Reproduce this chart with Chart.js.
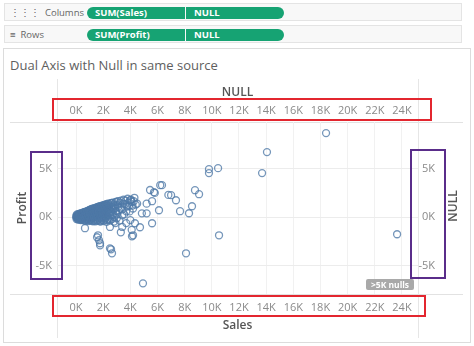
<!DOCTYPE html>
<html>
<head>
<meta charset="utf-8">
<script src="https://cdn.jsdelivr.net/npm/chart.js@4"></script>
<style>
  body { margin: 0; width: 474px; height: 346px; background: #fff; font-family: "Open Sans", sans-serif; position: relative; overflow: hidden; }
  .shelf { position: absolute; left: 4px; width: 458px; height: 18px; background: #f8f8f8; border: 1px solid #e4e4e4; box-sizing: border-box; }
  .shelf .lbl { position: absolute; left: 5px; top: 2px; font-size: 9.5px; color: #666; }
  .pill { position: absolute; top: 3px; height: 12px; background: #16a373; color: #fff; font-size: 9.5px; font-weight: 700; line-height: 12px; box-sizing: border-box; padding-left: 8px; }
  .pill.a { left: 82px; width: 98px; border-radius: 7px 0 0 7px; }
  .pill.b { left: 181px; width: 98px; border-radius: 0 7px 7px 0; }
  #panel { position: absolute; left: 3px; top: 48px; width: 468px; height: 295px; border: 1px solid #dcdcdc; box-sizing: border-box; }
  #title { position: absolute; left: 10px; top: 56px; font-size: 13px; color: #5e5e5e; }
  .hline { position: absolute; left: 10px; width: 453px; height: 1px; background: #e2e2e2; }
  .vline { position: absolute; top: 79px; width: 1px; height: 259px; background: #e6e6e6; }
  #chartBox { position: absolute; left: 4px; top: 80px; width: 466px; height: 262px; }
  #rightTitle { position: absolute; left: 452px; top: 206px; transform: translate(-50%, -50%) rotate(-90deg); font-size: 12px; font-weight: 600; color: #555; }
  .redbox { position: absolute; border: 2px solid #e3262f; box-sizing: border-box; }
  .purplebox { position: absolute; border: 2px solid #5a2d8a; box-sizing: border-box; }
  #badge { position: absolute; left: 366px; top: 279px; width: 48px; height: 11px; background: #a9a9a9; color: #fff; font-size: 8.5px; font-weight: 700; line-height: 11px; text-align: center; border-radius: 2px; }
</style>
</head>
<body>
<div class="shelf" style="top:3px"><span class="lbl">&#8942;&#8942;&#8942;&nbsp; Columns</span>
  <div class="pill a">SUM(Sales)</div><div class="pill b">NULL</div></div>
<div class="shelf" style="top:25px"><span class="lbl">&#8801;&nbsp; Rows</span>
  <div class="pill a">SUM(Profit)</div><div class="pill b">NULL</div></div>

<div id="panel"></div>
<div id="title">Dual Axis with Null in same source</div>
<div class="hline" style="top:122px"></div>
<div class="hline" style="top:294px"></div>
<div class="vline" style="left:57px"></div>
<div class="vline" style="left:418px"></div>

<div id="chartBox"><canvas id="chartDual"></canvas></div>
<div id="rightTitle">NULL</div>

<div class="redbox" style="left:52px;top:98px;width:380px;height:23px"></div>
<div class="redbox" style="left:52px;top:295px;width:374px;height:22px"></div>
<div class="purplebox" style="left:30px;top:151px;width:33px;height:129px"></div>
<div class="purplebox" style="left:410px;top:149px;width:36px;height:130px"></div>
<div id="badge">&gt;5K nulls</div>

<script>
// ==============================
//  DATOS
// ==============================
const xTicks = [0, 2000, 4000, 6000, 8000, 10000, 12000, 14000, 16000, 18000, 20000, 22000, 24000];
const yTicks = [-5000, 0, 5000];

// nube densa cerca del origen
const salesCore = [
  30, 50, 60, 80, 90, 110, 120, 140, 150, 170,
  190, 200, 220, 250, 260, 280, 300, 320, 350, 360,
  380, 400, 420, 450, 470, 500,
  520, 550, 570, 600, 620, 650, 680, 700, 720, 750,
  780, 800, 820, 850, 880, 900, 930, 950, 980, 1000,
  1020, 1050, 1080, 1100, 1120, 1150, 1180, 1200, 1230, 1250,
  1280, 1300, 1320, 1350, 1380, 1400, 1420, 1450, 1480, 1500,
  1520, 1550, 1580, 1600, 1620, 1650, 1680, 1700, 1720, 1750,
  1780, 1800, 1820, 1850, 1880, 1900, 1920, 1950, 1980, 2000,
  2020, 2050, 2080, 2100, 2120, 2150, 2180, 2200, 2220, 2250,
  2280, 2300, 2320, 2350, 2400, 2450, 2480, 2500,
  2550, 2600, 2650, 2700, 2720, 2750, 2800, 2850, 2900, 2950, 3000,
  3050, 3100, 3150, 3200, 3300, 3350, 3400, 3500, 3600, 3700,
  3800, 3900, 4000, 4100, 4200, 4300, 4400
];
const profitCore = [
  -20, 5, 25, 120, -5, 40, -150, -30, 230, 15,
  55, -250, -15, 300, 70, -60, 160, 25, -300, 95,
  -35, 380, 50, -120, 130, 250,
  -80, 420, 85, -350, 170, 550, -50, 300, 210, -200,
  100, 620, -130, 400, 260, -400, 130, 700, -60, 480,
  300, 780, 220, -300, -170, 560, 80, 850, 360, -420,
  190, 680, -20, 900, 430, -250, 260, 750, -150, 980,
  480, -380, 350, 1050, 60, 820, 540, -220, 1120, 200,
  420, -450, 160, 950, 610, -100, 1180, 300, 480, 750,
  -300, 1250, 700, 100, -220, 1000, 520, 1320, 800, -480,
  90, 1150, 600, -150, 1380, 850, 250, -350,
  1450, 550, -200, 1100, 1500, 300, -450, 900, 1550, 400, -100,
  1250, 1650, 700, -350, 1700, 1000, 200, 1800, 1350, 600,
  1900, 1150, -300, 1600, 900, 2000, 1300
];

// segunda capa de la nube densa
const salesCore2 = [
  20, 40, 70, 100, 130, 160, 180, 210, 240, 270,
  290, 310, 340, 370, 390, 410, 440, 460, 490, 510,
  540, 560, 590, 610, 640, 660, 690, 710, 740, 760,
  790, 810, 840, 860, 890, 910, 940, 960, 990, 1010,
  1040, 1060, 1090, 1110, 1140, 1160, 1190, 1210, 1240, 1260,
  1290, 1310, 1340, 1360, 1390, 1410, 1440, 1460, 1490, 1510,
  1540, 1560, 1590, 1610, 1640, 1660, 1690, 1710, 1740, 1760,
  1790, 1810, 1840, 1860, 1890, 1910, 1940, 1960, 1990, 2010,
  2040, 2060, 2090, 2110, 2140, 2160, 2190, 2210, 2240, 2260,
  2290, 2310, 2340, 2360, 2390, 2420, 2460, 2520, 2580, 2620,
  2680, 2740, 2780, 2830, 2880, 2930, 2980, 3020, 3120, 3250,
  3380, 3480, 3550, 3650, 3750, 3850, 3950, 4050, 4150, 4250
];
const profitCore2 = [
  150, -180, 280, 60, -220, 180, 320, -100, 110, 380,
  -200, 230, 0, 420, -180, 150, 300, -280, 480, 60,
  -120, 330, 520, -250, 200, 420, -380, 560, 30, 360,
  -300, 600, 180, -160, 480, 680, -330, 260, 740, 20,
  -250, 560, 400, 820, -380, 180, 640, 880, -100, 440,
  760, -340, 300, 940, 100, 580, -420, 850, 320, 1000,
  120, 700, -280, 920, 380, 1080, -60, 620, 860, -400,
  1140, 280, 720, 1020, -260, 460, 1200, 860, 20, 1100,
  -400, 560, 1260, 300, 920, -100, 1180, 680, 1330, 150,
  -300, 980, 1400, 420, 760, -200, 1200, 650, 1000, 1480,
  200, 800, 1300, 0, 1200, 650, 1600, 300, 1100, 1500,
  800, 1400, 300, 1700, 1100, 1500, 600, 1800, 1200, 1650
];

// puntos dispersos
const salesSpread = [
  660, 1550, 1620, 1690, 1770, 1770, 2500, 2500, 2580, 2650,
  2900, 3300, 3400, 3700, 4000, 4100, 4120, 4200, 4340, 4500,
  4710, 4850, 4930, 5200, 5200, 5450, 5600, 5600, 5740, 5800,
  6110, 6200, 6330, 6800, 7000, 7360, 7660, 8100, 8320, 8540,
  8760, 9060, 9790, 9790, 10460, 10530, 13700, 14060, 18410, 23640
];
const profitSpread = [
  -1130, -2060, -1860, -2370, -2890, -2680, -3200, -1000, -3300, -3710,
  -600, -1550, -1000, -600, 1750, -1300, -1960, -1860, -620, 1400,
  -1030, 400, -6800, 400, 1400, 2800, -620, 1650, 2580, 2500,
  720, 3300, 3300, 2300, 2270, 1750, 620, -3710, 410, 1130,
  2780, 2370, 4950, 4540, 5050, -1860, 4540, 6700, 8660, -1750
];

const toPoints = (xs, ys) => xs.map((x, i) => ({ x: x, y: ys[i] }));

const fontTick = { family: "Open Sans", size: 11 };
const fontTitle = { family: "Open Sans", size: 12, weight: "600" };
const kLabel = v => (v / 1000) + "K";

document.addEventListener("DOMContentLoaded", () => {
  const ctx = document.getElementById("chartDual").getContext("2d");
  const estilo = {
    pointRadius: 3.5,
    pointHoverRadius: 3.5,
    borderWidth: 1.3,
    borderColor: "rgba(78,121,167,0.78)",
    backgroundColor: "rgba(255,255,255,0)",
    showLine: false
  };

  new Chart(ctx, {
    type: "scatter",
    data: {
      datasets: [
        { label: "Profit", data: toPoints(salesCore, profitCore), xAxisID: "x", yAxisID: "y", ...estilo },
        { label: "Profit", data: toPoints(salesCore2, profitCore2), xAxisID: "x", yAxisID: "y", ...estilo },
        { label: "Profit", data: toPoints(salesSpread, profitSpread), xAxisID: "x", yAxisID: "y", ...estilo }
      ]
    },
    options: {
      responsive: true,
      maintainAspectRatio: false,
      animation: false,
      layout: { padding: { right: 35 } },
      plugins: { legend: { display: false }, tooltip: { enabled: false } },
      scales: {
        x: {
          type: "linear", position: "bottom", min: -1400, max: 25180,
          afterBuildTicks: s => { s.ticks = xTicks.map(v => ({ value: v })); },
          afterFit: s => { s.height = 48; },
          grid: { color: "#f1f1f1", drawTicks: false },
          border: { display: false },
          ticks: { color: "#8a8a8a", font: fontTick, padding: 7, maxRotation: 0, callback: kLabel },
          title: { display: true, text: "Sales", color: "#555", font: fontTitle, padding: { top: 0, bottom: 9 } }
        },
        x2: {
          type: "linear", position: "top", min: -1400, max: 25180,
          afterBuildTicks: s => { s.ticks = xTicks.map(v => ({ value: v })); },
          afterFit: s => { s.height = 42; },
          grid: { display: false, drawTicks: false },
          border: { display: false },
          ticks: { color: "#8a8a8a", font: fontTick, padding: 5, maxRotation: 0, callback: kLabel },
          title: { display: true, text: "NULL", color: "#555", font: fontTitle, padding: { top: 5, bottom: 0 } }
        },
        y: {
          type: "linear", position: "left", min: -7900, max: 9800,
          afterBuildTicks: s => { s.ticks = yTicks.map(v => ({ value: v })); },
          afterFit: s => { s.width = 53; },
          grid: { color: "#ececec", drawTicks: false },
          border: { display: false },
          ticks: { color: "#8a8a8a", font: fontTick, padding: 5, callback: kLabel },
          title: { display: true, text: "Profit", color: "#555", font: fontTitle, padding: { top: 11, bottom: 0 } }
        },
        y2: {
          type: "linear", position: "right", min: -7900, max: 9800,
          afterBuildTicks: s => { s.ticks = yTicks.map(v => ({ value: v })); },
          afterFit: s => { s.width = 17; },
          grid: { display: false, drawTicks: false },
          border: { display: false },
          ticks: { color: "#8a8a8a", font: fontTick, padding: 3, crossAlign: "far", callback: kLabel }
        }
      }
    }
  });
});
</script>
</body>
</html>
